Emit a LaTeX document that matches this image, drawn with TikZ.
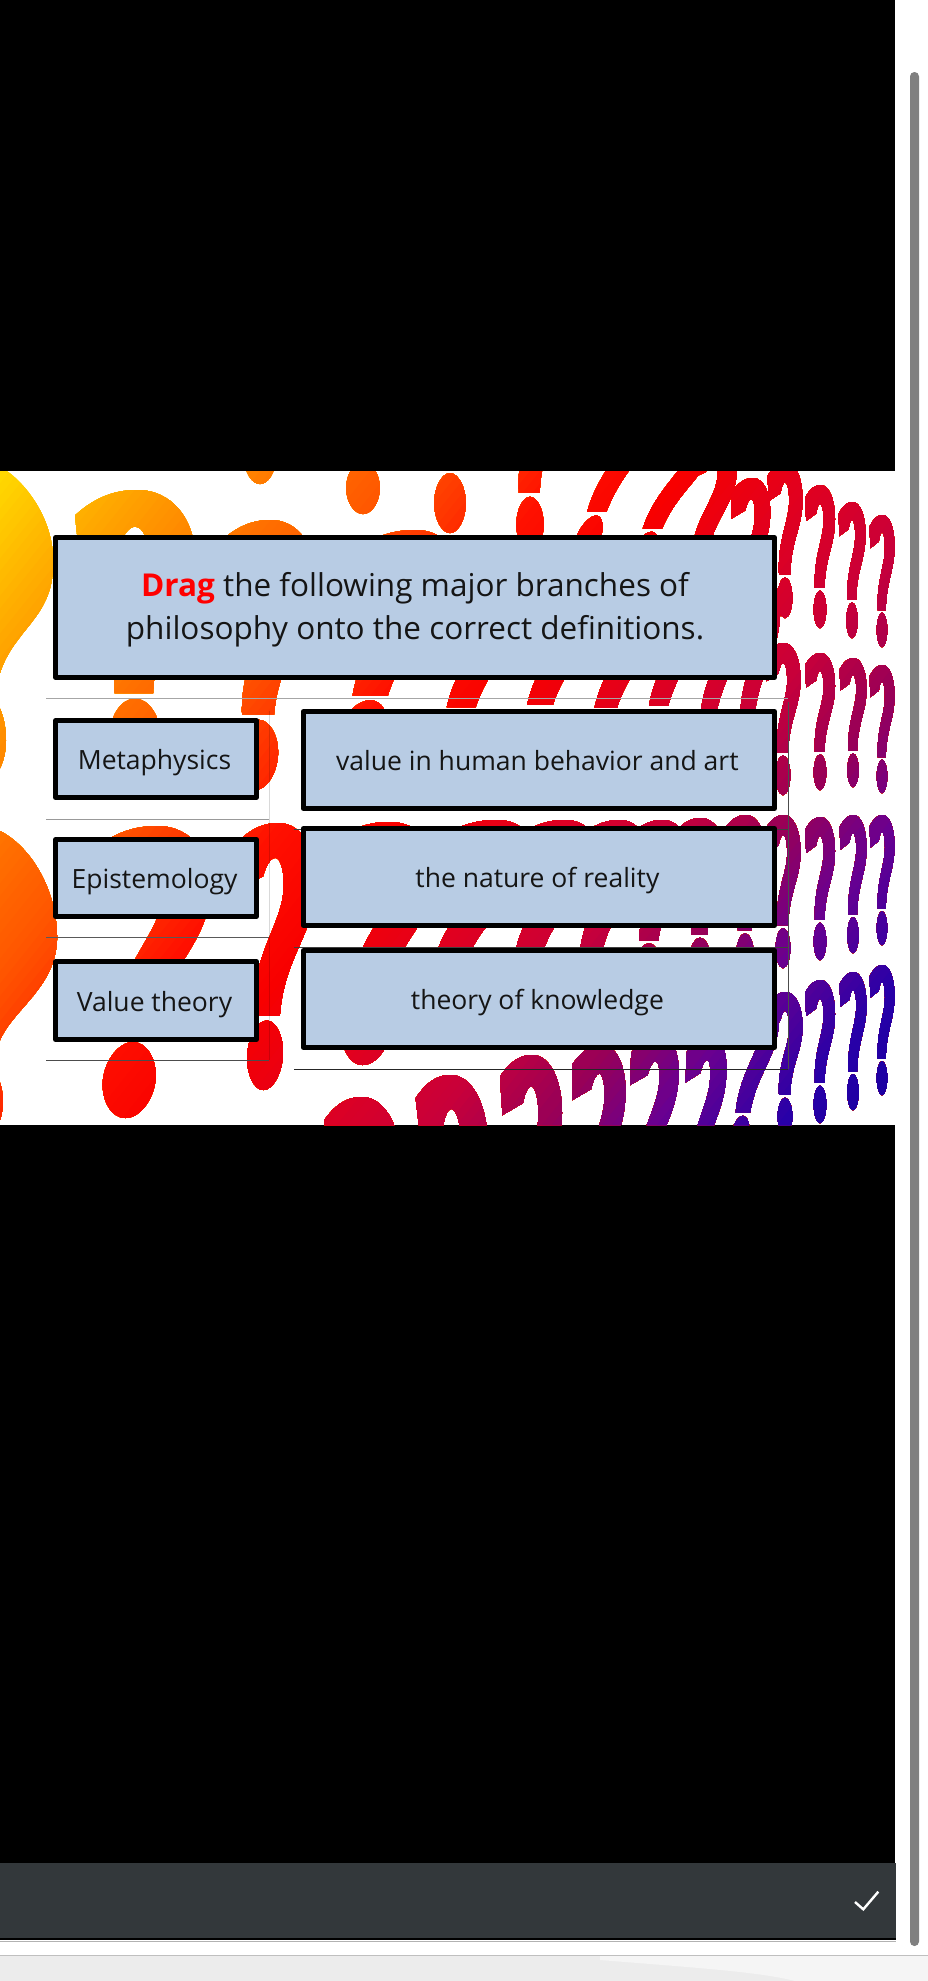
\documentclass[tikz,border=0pt]{standalone}
\usepackage{fontspec}
\setmainfont{Open Sans}
\definecolor{q0}{HTML}{FFD800}
\definecolor{q1}{HTML}{FFA800}
\definecolor{q2}{HTML}{FF7000}
\definecolor{q3}{HTML}{FF5500}
\definecolor{q4}{HTML}{FF3800}
\definecolor{q5}{HTML}{FF1000}
\definecolor{q6}{HTML}{F80000}
\definecolor{q7}{HTML}{E00020}
\definecolor{q8}{HTML}{C8003A}
\definecolor{q9}{HTML}{980058}
\definecolor{q10}{HTML}{6A0090}
\definecolor{q11}{HTML}{2800A8}
\definecolor{q12}{HTML}{1800A0}
\definecolor{boxfill}{HTML}{B8CCE4}
\definecolor{barfill}{HTML}{33383B}
\definecolor{inktext}{HTML}{151515}
% one question mark: mid-height x, top y, bottom y, width, lean (dx per dy)
\newcommand\qm[5]{{[shift={({#1-(#5)*(#3-#2)/2},{-(#2)})},xscale={#4},yscale={#3-#2},xslant={-(#5)*(#3-#2)/(#4)}]
 (-0.5,-0.09) .. controls (-0.32,-0.02) and (-0.15,0) .. (0.02,0)
 .. controls (0.3,0) and (0.5,-0.1) .. (0.5,-0.24)
 .. controls (0.5,-0.42) and (0.17,-0.5) .. (0.15,-0.72)
 -- (-0.17,-0.72)
 .. controls (-0.22,-0.5) and (0.12,-0.38) .. (0.12,-0.25)
 .. controls (0.12,-0.18) and (0.07,-0.13) .. (0,-0.13)
 .. controls (-0.05,-0.13) and (-0.1,-0.16) .. (-0.13,-0.2)
 -- (-0.46,-0.25) -- cycle
 (0.21,-0.87) .. controls (0.21,-0.94) and (0.11,-1) .. (0,-1)
 .. controls (-0.11,-1) and (-0.21,-0.94) .. (-0.21,-0.87)
 .. controls (-0.21,-0.8) and (-0.11,-0.74) .. (0,-0.74)
 .. controls (0.11,-0.74) and (0.21,-0.8) .. (0.21,-0.87) -- cycle}}
\tikzset{
 x=1pt,y=1pt,
 answerbox/.style={draw=black,fill=boxfill,line width=5.2pt,line join=round,inner sep=0pt,text=inktext,align=center,
   text height=21pt,text depth=0pt,font=\fontsize{26.5}{32}\selectfont},
 titlebox/.style={draw=black,fill=boxfill,line width=5.2pt,line join=round,inner sep=0pt,text=inktext,align=center,
   font=\fontsize{31.5}{43}\selectfont},
 dropline/.style={line width=0.9pt,draw=#1}
}
\begin{document}
\begin{tikzpicture}
\useasboundingbox (0,0) rectangle (928,-1981);
\fill[white] (0,0) rectangle (928,-1981);
% page
\fill[black] (0,0) rectangle (895,-471);
\fill[black] (0,-1125) rectangle (895,-1863);
\fill[white] (0,-471) rectangle (895,-1125);
% picture of question marks
\begin{scope}
\clip (0,-471) rectangle (895,-1125);
\begin{scope}
\clip
 % far right columns
 \qm{785}{462}{618}{35}{0}\qm{820}{485}{628}{30}{0}\qm{852}{502}{638}{27}{0}\qm{882}{515}{647}{25}{0}
 \qm{783}{643}{795}{35}{0}\qm{820}{653}{790}{30}{0}\qm{853}{658}{787}{27}{0}\qm{882}{665}{793}{25}{0}
 \qm{783}{815}{968}{35}{0}\qm{820}{817}{960}{30}{0}\qm{853}{815}{953}{27}{0}\qm{882}{815}{945}{25}{0}
 \qm{785}{992}{1135}{35}{0}\qm{820}{980}{1123}{30}{0}\qm{853}{972}{1110}{27}{0}\qm{882}{965}{1095}{25}{0}
 % top row
 \qm{260}{284}{484}{75}{0}\qm{363}{314}{514}{80}{0}\qm{450}{303}{533}{75}{0}\qm{530}{340}{552}{65}{0}
 \qm{612}{375}{565}{60}{-0.35}\qm{668}{406}{576}{60}{-0.4}\qm{705}{440}{600}{50}{-0.15}\qm{748}{478}{640}{40}{-0.05}
 % second row
 \qm{135}{490}{772}{120}{0}\qm{262}{520}{790}{100}{-0.05}
 \qm{384}{530}{760}{110}{-0.25}\qm{477}{545}{770}{90}{-0.3}\qm{555}{550}{765}{80}{-0.3}
 \qm{620}{560}{765}{70}{-0.3}\qm{670}{565}{760}{60}{-0.25}\qm{718}{570}{765}{50}{-0.2}\qm{752}{575}{770}{45}{-0.1}
 % third row
 \qm{140}{826}{1118}{125}{-0.1}\qm{270}{823}{1090}{85}{-0.05}
 \qm{375}{822}{1065}{110}{-0.1}\qm{465}{820}{1015}{100}{-0.3}\qm{540}{820}{1005}{85}{-0.25}
 \qm{600}{820}{1000}{70}{-0.2}\qm{653}{820}{987}{60}{-0.1}\qm{700}{818}{980}{50}{0}\qm{745}{815}{975}{42}{0}
 % bottom row
 \qm{367}{1097}{1357}{75}{0.05}\qm{456}{1075}{1335}{70}{0.05}\qm{531}{1055}{1295}{62}{0}
 \qm{595}{1045}{1265}{55}{-0.05}\qm{648}{1035}{1235}{50}{-0.1}\qm{700}{1035}{1225}{42}{-0.1}\qm{749}{990}{1160}{45}{-0.15}
 % the two large ones cut by the left edge
 (-2,-465) .. controls (25,-480) and (55,-520) .. (53,-565)
 .. controls (53,-620) and (10,-630) .. (-2,-680) -- cycle
 (-2,-705) .. controls (4,-715) and (6,-730) .. (6,-740) .. controls (6,-755) and (2,-765) .. (-2,-772) -- cycle
 (-2,-830) .. controls (30,-845) and (58,-890) .. (57,-940)
 .. controls (55,-990) and (10,-1010) .. (-2,-1045) -- cycle
 (-2,-1078) .. controls (4,-1090) and (5,-1110) .. (-2,-1125) -- cycle;
\foreach \ta/\tb/\ca/\cb in {0/130/q0/q1,130/300/q1/q2,300/400/q2/q3,400/470/q3/q4,470/560/q4/q5,560/680/q5/q6,680/820/q6/q7,820/950/q7/q8,950/1065/q8/q9,1065/1170/q9/q10,1170/1300/q10/q11,1300/1400/q11/q12}{
  \pgfmathtruncatemacro\nsteps{(\tb-\ta)/10}
  \foreach \i in {1,...,\nsteps}{
    \pgfmathsetmacro\tval{\ta+(\i-1)*10}
    \pgfmathsetmacro\pval{100*(\i-1)/\nsteps}
    \fill[\cb!\pval!\ca] ({\tval},-471) -- ({\tval+2000},-471) -- ({\tval+2000-523},-1125) -- ({\tval-523},-1125) -- cycle;
  }
}
\end{scope}
\end{scope}
% faint drop zones
\draw[dropline=gray!70] (46,-698) -- (788,-698);
\draw[dropline=gray!80] (46,-819) -- (269,-819);
\draw[dropline=black!65] (46,-937) -- (269,-937);
\draw[dropline=black!70] (46,-1060) -- (269,-1060);
\draw[dropline=black!75] (294,-829) -- (788,-829);
\draw[dropline=black!75] (294,-947) -- (788,-947);
\draw[dropline=black!85] (294,-1069) -- (788,-1069);
\draw[line width=0.5pt,draw=black,opacity=0.15] (269,-711) -- (269,-1060);
\draw[line width=0.6pt,draw=black!70] (788,-702) -- (788,-1069);
% boxes
\node[titlebox,minimum width=718.8pt,minimum height=139.8pt] (title) at (415,-607.5)
  {\rule{0pt}{29pt}\textcolor{red}{\textbf{Drag}} the following major branches of\\philosophy onto the correct definitions.};
\node[answerbox,minimum width=200.8pt,minimum height=76.8pt] (meta) at (156,-759) {Metaphysics\kern3pt};
\node[answerbox,minimum width=200.8pt,minimum height=76.8pt] (epis) at (156,-878) {Epistemology\kern3pt};
\node[answerbox,minimum width=200.8pt,minimum height=77.8pt] (valt) at (156,-1000.5) {Value theory\kern3pt};
\node[answerbox,minimum width=471.1pt,minimum height=96.8pt] (def1) at (538.9,-760) {value in human behavior and art\kern3pt};
\node[answerbox,minimum width=471.1pt,minimum height=96.8pt] (def2) at (538.9,-877) {the nature of reality\kern3pt};
\node[answerbox,minimum width=471.1pt,minimum height=96.8pt] (def3) at (538.9,-999) {theory of knowledge\kern3pt};
% bottom bar
\fill[barfill] (0,-1863) rectangle (896,-1938);
\fill[black] (0,-1938) rectangle (896,-1939.5);
\fill[gray!60] (0,-1940.5) rectangle (896,-1942);
\draw[white,line width=2.4pt] (855,-1902) -- (863.3,-1909.3) -- (878.3,-1891.7);
% scroll bar
\fill[gray,rounded corners=4.4pt] (910,-72) rectangle (919,-1946);
% footer
\fill[gray!15] (0,-1956) rectangle (928,-1981);
\fill[gray!8] (928,-1956) -- (928,-1981) -- (795,-1981) .. controls (760,-1972) and (700,-1968) .. (600,-1960) -- (600,-1956) -- cycle;
\draw[gray!50,line width=1pt] (0,-1955.5) -- (928,-1955.5);
\end{tikzpicture}
\end{document}
